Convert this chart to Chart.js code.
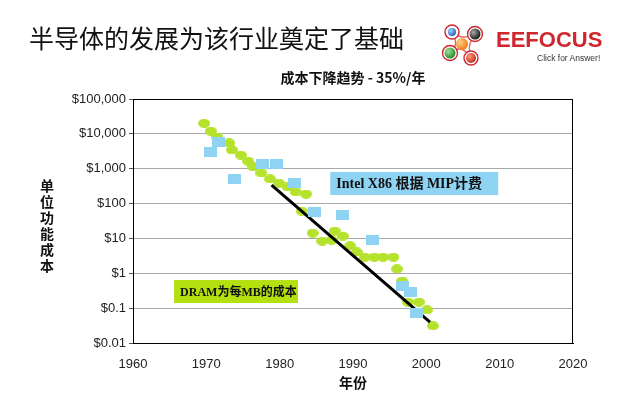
<!DOCTYPE html>
<html>
<head>
<meta charset="utf-8">
<script src="https://cdn.jsdelivr.net/npm/chart.js@4.4.1/dist/chart.umd.min.js"></script>
<style>
html,body{margin:0;padding:0;background:#fff;}
#wrap{position:relative;width:626px;height:397px;overflow:hidden;background:#fff;}
#c{position:absolute;left:0;top:0;}
.heading{position:absolute;left:29px;top:19px;font-family:"Noto Sans CJK SC",sans-serif;font-size:25px;line-height:36px;color:#111;white-space:nowrap;}
.ytitle{position:absolute;left:39px;top:177px;width:16px;font-family:"Noto Sans CJK SC",sans-serif;font-weight:bold;font-size:14px;line-height:16px;color:#111;text-align:center;}
.brand{position:absolute;left:496px;top:26px;font-family:"Liberation Sans",Arial,sans-serif;font-weight:bold;font-size:22px;line-height:28px;color:#d0262e;}
.slogan{position:absolute;left:537px;top:53px;font-family:"Liberation Sans",Arial,sans-serif;font-size:8.5px;line-height:10px;color:#333;}
svg.logo{position:absolute;left:436px;top:19px;}
</style>
</head>
<body>
<div id="wrap">
<canvas id="c" width="626" height="397"></canvas>
<div class="heading">半导体的发展为该行业奠定了基础</div>
<svg class="logo" width="56" height="52" viewBox="0 0 56 52">
  <defs>
    <radialGradient id="gb" cx="35%" cy="35%" r="70%"><stop offset="0" stop-color="#9fd4ff"/><stop offset="1" stop-color="#1f5fb0"/></radialGradient>
    <radialGradient id="gk" cx="35%" cy="35%" r="70%"><stop offset="0" stop-color="#aaa"/><stop offset="1" stop-color="#111"/></radialGradient>
    <radialGradient id="go" cx="35%" cy="35%" r="70%"><stop offset="0" stop-color="#ffd08a"/><stop offset="1" stop-color="#f07a10"/></radialGradient>
    <radialGradient id="gg" cx="35%" cy="35%" r="70%"><stop offset="0" stop-color="#9ee29a"/><stop offset="1" stop-color="#1e8a2a"/></radialGradient>
    <radialGradient id="gr" cx="35%" cy="35%" r="70%"><stop offset="0" stop-color="#ff9a80"/><stop offset="1" stop-color="#c03018"/></radialGradient>
  </defs>
  <path d="M16 13 Q26 22 39 15 M14 34 Q26 24 35 39 M16 13 Q24 26 14 34 M39 15 Q30 26 35 39" stroke="#d0262e" stroke-width="1.4" fill="none" opacity="0.7"/>
  <circle cx="16" cy="13" r="7" fill="#fff" stroke="#d0262e" stroke-width="1.4"/>
  <circle cx="39" cy="15" r="7.5" fill="#fff" stroke="#d0262e" stroke-width="1.4"/>
  <circle cx="14" cy="34" r="7.5" fill="#fff" stroke="#d0262e" stroke-width="1.4"/>
  <circle cx="35" cy="39" r="7" fill="#fff" stroke="#d0262e" stroke-width="1.4"/>
  <circle cx="16" cy="13" r="4" fill="url(#gb)"/>
  <circle cx="39" cy="15" r="5.5" fill="url(#gk)"/>
  <circle cx="26" cy="25" r="6" fill="url(#go)"/>
  <circle cx="14" cy="34" r="5.5" fill="url(#gg)"/>
  <circle cx="35" cy="39" r="5" fill="url(#gr)"/>
</svg>
<div class="brand">EEFOCUS</div>
<div class="slogan">Click for Answer!</div>
<div class="ytitle">单<br>位<br>功<br>能<br>成<br>本</div>
</div>
<script>
// ---- data ----
const dramYears = [1969.7,1970.6,1971.5,1973.1,1973.5,1974.7,1975.7,1976.4,1977.5,1978.7,1979.9,1981.1,1982.2,1983.6,1983.0,1984.5,1985.8,1987.1,1987.5,1988.6,1989.6,1990.5,1991.6,1992.9,1994.1,1995.5,1996.0,1996.7,1997.5,1999.0,2000.1,2000.9];
const dramCost  = [20000,12000,8100,5500,3450,2470,1660,1120,755,507,389,299,215,188,61,14.3,8.4,9.0,16.3,11.7,6.1,4.1,2.9,2.9,2.9,2.9,1.33,0.6,0.15,0.15,0.089,0.031];
const intelYears = [1970.6,1971.6,1973.8,1977.7,1979.5,1982.0,1984.7,1988.6,1992.7,1996.7,1997.8,1998.7];
const intelCost  = [3000,5800,507,1365,1365,390,57,47,9.0,0.43,0.29,0.072];
const trendYears = [1978.9, 2000.5];
const trendCost  = [340, 0.04];
const yTickValues = [0.01,0.1,1,10,100,1000,10000,100000];
const yTickLabels = ['$0.01','$0.1','$1','$10','$100','$1,000','$10,000','$100,000'];
const xTickValues = [1960,1970,1980,1990,2000,2010,2020];
const chartTitle = '成本下降趋势 - 35%/年';
const xTitle = '年份';
const labelTexts = ['Intel X86 根据 MIP计费', 'DRAM为每MB的成本'];
const labelX1 = [1986.9, 1965.6];
const labelX2 = [2009.8, 1982.5];
const labelYTop = [805, 0.64];
const labelYBot = [176, 0.14];
const labelColors = ['#8fd3f2', '#b3e00f'];
const labelFontSizes = [14, 12];

// ---- marker images ----
function makeEllipse(w,h,color){
  const c=document.createElement('canvas'); c.width=w; c.height=h;
  const g=c.getContext('2d'); g.fillStyle=color; g.beginPath();
  g.ellipse(w/2,h/2,w/2,h/2,0,0,Math.PI*2); g.fill(); return c;
}
function makeRect(w,h,color){
  const c=document.createElement('canvas'); c.width=w; c.height=h;
  const g=c.getContext('2d'); g.fillStyle=color; g.fillRect(0,0,w,h); return c;
}
const greenDot = makeEllipse(12,9,'#b5e22c');
const blueSq = makeRect(13,10,'#8fd3f2');

const zip = (xs,ys)=>xs.map((x,i)=>({x:x,y:ys[i]}));

const annoPlugin = {
  id:'anno',
  beforeDatasetsDraw(chart){
    const {ctx, scales:{x,y}} = chart;
    ctx.save();
    labelTexts.forEach((t,i)=>{
      const x1=x.getPixelForValue(labelX1[i]), x2=x.getPixelForValue(labelX2[i]);
      const y1=y.getPixelForValue(labelYTop[i]), y2=y.getPixelForValue(labelYBot[i]);
      ctx.fillStyle=labelColors[i];
      ctx.fillRect(x1,y1,x2-x1,y2-y1);
      ctx.fillStyle='#111';
      ctx.font='bold '+labelFontSizes[i]+'px "Liberation Serif","Noto Sans CJK SC",serif';
      ctx.textBaseline='middle'; ctx.textAlign='left';
      ctx.fillText(t,x1+6,(y1+y2)/2+1);
    });
    ctx.restore();
  },
  afterDraw(chart){
    const {ctx, chartArea:a} = chart;
    ctx.save();
    ctx.strokeStyle='#000'; ctx.lineWidth=1;
    ctx.strokeRect(Math.round(a.left)+0.5, Math.round(a.top)+0.5, Math.round(a.right-a.left)-1, Math.round(a.bottom-a.top));
    ctx.restore();
  }
};

new Chart(document.getElementById('c'), {
  type:'scatter',
  data:{
    datasets:[
      {label:'Intel', data:zip(intelYears,intelCost), pointStyle:blueSq, order:0, showLine:false},
      {label:'Trend', data:zip(trendYears,trendCost), showLine:true, borderColor:'#000', borderWidth:3, pointRadius:0, order:1},
      {label:'DRAM', data:zip(dramYears,dramCost), pointStyle:greenDot, order:2, showLine:false}
    ]
  },
  options:{
    responsive:false, animation:false, devicePixelRatio:1,
    layout:{padding:{left:0,right:53,top:0,bottom:0}},
    plugins:{
      legend:{display:false}, tooltip:{enabled:false},
      title:{display:true, text:chartTitle, fullSize:false, color:'#111',
        font:{family:'"Noto Sans CJK SC",sans-serif', size:14, weight:'bold', lineHeight:1.2},
        padding:{top:69,bottom:13.2}}
    },
    scales:{
      x:{type:'linear', min:1960, max:2020,
        afterBuildTicks:(s)=>{ s.ticks = xTickValues.map(v=>({value:v})); },
        afterFit:(s)=>{ s.height = 54; },
        grid:{display:false}, border:{display:true,color:'#000'},
        ticks:{padding:6, color:'#222', font:{family:'"Liberation Sans",Arial,sans-serif', size:13}, callback:(v)=>String(v), maxRotation:0},
        title:{display:true, text:xTitle, color:'#111', font:{family:'"Noto Sans CJK SC",sans-serif', size:14, weight:'bold', lineHeight:1.2}, padding:{top:0,bottom:6}}
      },
      y:{type:'logarithmic', min:0.01, max:100000,
        afterBuildTicks:(s)=>{ s.ticks = yTickValues.map(v=>({value:v})); },
        afterFit:(s)=>{ s.width = 133; },
        grid:{color:'#a8a8a8', lineWidth:1, drawTicks:true, tickLength:4, tickColor:'#555'},
        border:{display:true,color:'#000'},
        ticks:{padding:3, color:'#222', font:{family:'"Liberation Sans",Arial,sans-serif', size:13},
          callback:(v,i)=>yTickLabels[i]}
      }
    }
  },
  plugins:[annoPlugin]
});
</script>
</body>
</html>
